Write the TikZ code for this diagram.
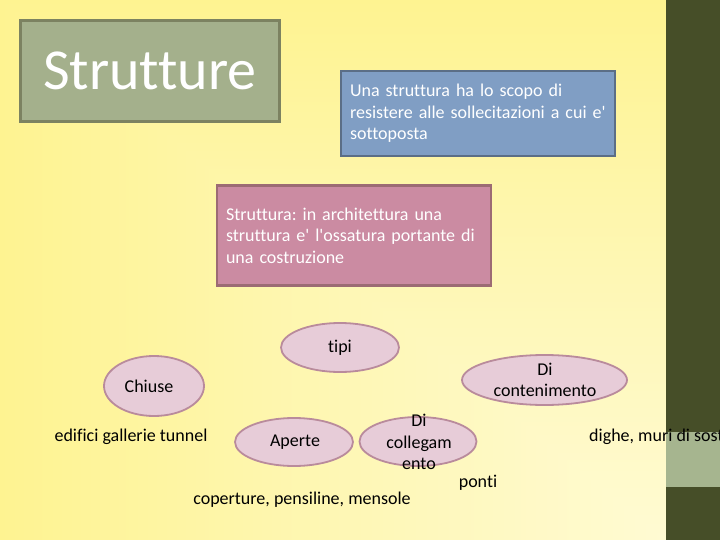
\documentclass[tikz,border=0pt]{standalone}
\usepackage{fontspec}
\setmainfont{Carlito}[Ligatures={TeXOff,NoCommon,NoContextual}, RawFeature=-liga, RawFeature=-clig, RawFeature=-calt]
\usepackage{tikz}
\usetikzlibrary{
    positioning,
    shapes.geometric
}
\frenchspacing
\definecolor{bgYellow}{RGB}{252, 233, 72}
\definecolor{bgYellowA}{RGB}{253, 238, 105}
\definecolor{bgYellowB}{RGB}{254, 243, 145}
\definecolor{bgYellowC}{RGB}{254, 247, 180}
\definecolor{bgYellowD}{RGB}{255, 251, 214}
\definecolor{bgWhite}{RGB}{255, 255, 244}
\definecolor{stripDark}{RGB}{70, 78, 40}
\definecolor{stripLight}{RGB}{166, 181, 143}
\definecolor{titleFill}{RGB}{164, 176, 140}
\definecolor{titleBorder}{RGB}{124, 130, 97}
\definecolor{blueFill}{RGB}{128, 158, 196}
\definecolor{blueBorder}{RGB}{91, 110, 134}
\definecolor{pinkFill}{RGB}{203, 139, 162}
\definecolor{pinkBorder}{RGB}{156, 107, 116}
\definecolor{ellFill}{RGB}{231, 204, 216}
\definecolor{ellBorder}{RGB}{185, 139, 156}
\pgfdeclarehorizontalshading{bgHoriz}{100bp}{color(0bp)=(bgYellow); color(8bp)=(bgYellowA); color(25bp)=(bgYellowB); color(50bp)=(bgYellowC); color(78bp)=(bgYellowD); color(100bp)=(bgWhite)}
\pgfdeclareverticalshading{bgVert}{100bp}{color(0bp)=(bgWhite); color(22bp)=(bgYellowD); color(50bp)=(bgYellowC); color(75bp)=(bgYellowB); color(92bp)=(bgYellowA); color(100bp)=(bgYellow)}

\begin{document}
\begin{tikzpicture}[x=1pt, y=-1pt,
    testo/.style={font=\fontsize{18}{21.6}\selectfont, align=center, inner sep=0pt},
    infobox/.style={rectangle, line width=2.5pt, text=white, align=left,
        text width=256pt, inner sep=9pt, font=\fontsize{18}{21.6}\selectfont},
    tipo/.style={ellipse, draw=ellBorder, fill=ellFill, line width=1.8pt, inner sep=0pt}]
    \useasboundingbox (0,0) rectangle (720,540);
    % sfondo
    \shade[shading=bgHoriz] (0,0) rectangle (666,540);
    \shade[shading=bgVert] (0,0) -- (666,0) -- (666,540) -- cycle;
    \fill[stripDark] (666,0) rectangle (720,540);
    \fill[stripLight] (666,432) rectangle (720,487);
    % riquadri
    \node[rectangle, draw=titleBorder, line width=3pt, fill=titleFill, text=white,
        minimum width=259pt, minimum height=101pt, inner sep=0pt,
        font=\fontsize{58}{70}\selectfont] (titolo) at (150,71) {Strutture};
    \node[infobox, draw=blueBorder, fill=blueFill, minimum height=85pt] (scopo) at (478,113.5)
        {Una struttura ha lo scopo di\\resistere alle sollecitazioni a cui e'\\sottoposta};
    \node[infobox, draw=pinkBorder, fill=pinkFill, minimum height=100pt] (definizione) at (354,235.5)
        {Struttura: in architettura una\\struttura e' l'ossatura portante di\\una costruzione};
    % tipi
    \node[tipo, minimum width=118pt, minimum height=49pt] (tipi) at (340,347.5) {};
    \node[testo] (tipiT) at (tipi) {tipi};
    \node[tipo, minimum width=100pt, minimum height=60pt] (chiuse) at (154,386) {};
    \node[testo] (chiuseT) at (149,386) {Chiuse};
    \node[tipo, minimum width=118pt, minimum height=48pt] (aperte) at (294,442) {};
    \node[testo] (aperteT) at (295,442) {Aperte};
    \node[tipo, minimum width=117pt, minimum height=49pt] (collegamento) at (418,441.5) {};
    \node[testo] (collegamentoT) at (419,442) {Di\\collegam\\ento};
    \node[tipo, minimum width=165pt, minimum height=50pt] (contenimento) at (544.5,380) {};
    \node[testo] (contenimentoT) at (545,380) {Di\\contenimento};
    % esempi
    \node[testo] (esChiuse) at (131,437) {edifici gallerie tunnel};
    \node[testo] (esAperte) at (302,500) {coperture, pensiline, mensole};
    \node[testo] (esColleg) at (478,483) {ponti};
    \node[testo, anchor=west] (esConten) at (589,437) {dighe, muri di sost};
\end{tikzpicture}
\end{document}
